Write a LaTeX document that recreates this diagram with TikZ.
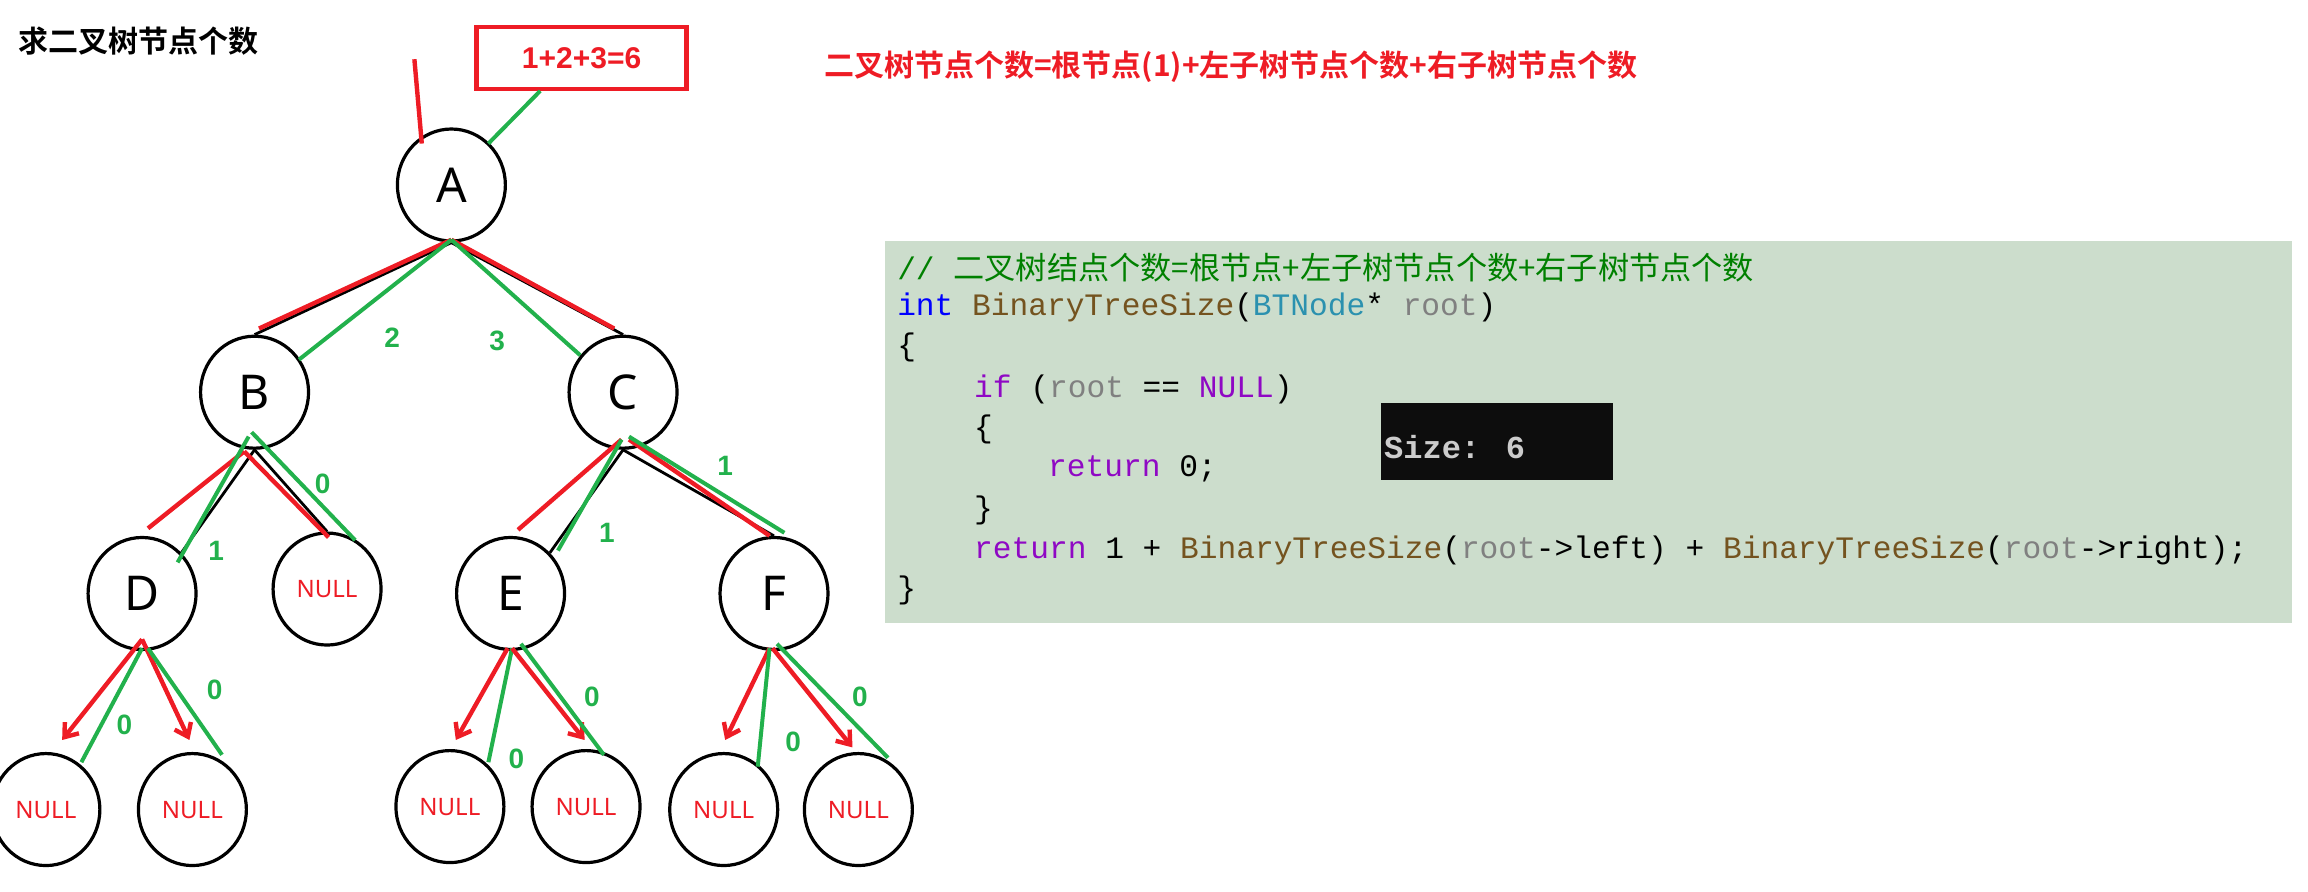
\documentclass[tikz,border=0pt]{standalone}
\usepackage{fontspec}
\setmainfont{Noto Sans}
\newfontfamily\cjk{Noto Sans CJK SC}
\newfontfamily\cjkb{Noto Sans CJK SC Bold}
\newfontfamily\bsans{Liberation Sans}
\newfontfamily\mono{Liberation Mono}
\usetikzlibrary{arrows.meta,shapes.geometric}
\definecolor{rd}{HTML}{EE1C25}
\definecolor{gr}{HTML}{22B14C}
\definecolor{codebg}{HTML}{CCDDCC}
\definecolor{cmt}{HTML}{008000}
\definecolor{kw}{HTML}{0000FF}
\definecolor{fn}{HTML}{74531F}
\definecolor{ty}{HTML}{2B91AF}
\definecolor{par}{HTML}{808080}
\definecolor{ctl}{HTML}{8F08C4}
\begin{document}
\begin{tikzpicture}[x=0.74pt,y=-0.74pt,
  tn/.style={draw,line width=1.6pt,ellipse,minimum width=54pt,minimum height=56pt,inner sep=0pt,font=\fontsize{24}{24}\selectfont},
  nn/.style={tn,font=\fontsize{12}{12}\selectfont\color{rd}},
  ed/.style={line width=1.4pt},
  re/.style={rd,line width=2.2pt},
  ra/.style={re,-{Straight Barb[length=6pt,width=9pt]}},
  ge/.style={gr,line width=2pt},
  gl/.style={gr,font=\bsans\bfseries\fontsize{14}{14}\selectfont},
  cl/.style={anchor=west,inner sep=0pt,font=\mono\fontsize{15.6}{16}\selectfont}]
\useasboundingbox (0,0) rectangle (1559.5,602.7);
% title and heading
\node[anchor=west,font=\cjkb\fontsize{15}{15}\selectfont] (title) at (8,28) {求二叉树节点个数};
\node[anchor=west,text=rd,font=\cjkb\fontsize{15}{15}\selectfont] (head) at (552,45) {二叉树节点个数=根节点(1)+左子树节点个数+右子树节点个数};
\node[draw=rd,line width=2.2pt,minimum width=105pt,minimum height=31pt,text=rd,font=\bsans\bfseries\fontsize{15}{15}\selectfont] (sum) at (393,39) {1+2+3=6};
% tree
\node[tn] (A) at (305,125) {A};
\node[tn] (B) at (172,265) {B};
\node[tn] (C) at (421,265) {C};
\node[tn] (D) at (96,401) {D};
\node[nn] (NB) at (221,398) {NULL};
\node[tn] (E) at (345,401) {E};
\node[tn] (F) at (523,401) {F};
\node[nn] (N1) at (31,547) {NULL};
\node[nn] (N2) at (130,547) {NULL};
\node[nn] (N3) at (304,545) {NULL};
\node[nn] (N4) at (396,545) {NULL};
\node[nn] (N5) at (489,547) {NULL};
\node[nn] (N6) at (580,547) {NULL};
\draw[ed] (A.south) -- (B.north); \draw[ed] (A.south) -- (C.north);
\draw[ed] (B.south) -- (D.north east); \draw[ed] (B.south) -- (NB.north);
\draw[ed] (C.south) -- (E.north east); \draw[ed] (C.south) -- (F.north);
% annotations
\coordinate (top) at (280,40);
\draw[re] (top) -- (285,97);
\draw[ge] (sum.south) ++(-28,0) -- (330,97);
\draw[re] (305,162) -- (175,222);
\draw[ge] (305,162) -- (202,243);
\draw[re] (305,162) -- (415,222);
\draw[ge] (305,162) -- (392,240);
\node[gl] at (265,228) {2};
\node[gl] at (336,230) {3};
\draw[re] (165,305) -- (100,357);
\draw[ge] (168,295) -- (120,380);
\node[gl] at (146,372) {1};
\draw[re] (165,305) -- (222,363);
\draw[ge] (170,292) -- (240,365);
\node[gl] at (218,327) {0};
\draw[re] (420,297) -- (350,358);
\draw[ge] (420,297) -- (377,372);
\node[gl] at (410,360) {1};
\draw[re] (425,297) -- (520,362);
\draw[ge] (425,295) -- (530,360);
\node[gl] at (490,315) {1};
\draw[ra] (96,432) -- (42,500);
\draw[ge] (96,438) -- (55,515);
\node[gl] at (84,490) {0};
\draw[ra] (96,432) -- (128,500);
\draw[ge] (100,438) -- (150,510);
\node[gl] at (145,466) {0};
\draw[ra] (343,438) -- (308,500);
\draw[ge] (346,438) -- (330,515);
\node[gl] at (349,513) {0};
\draw[ra] (346,438) -- (395,500);
\draw[ge] (352,435) -- (408,510);
\node[gl] at (400,471) {0};
\draw[ra] (520,438) -- (490,500);
\draw[ge] (520,438) -- (512,518);
\node[gl] at (536,501) {0};
\draw[ra] (522,438) -- (576,505);
\draw[ge] (525,435) -- (600,512);
\node[gl] at (581,471) {0};
% code
\fill[codebg] (598,163) rectangle (1549,421);
\node[cl] (c1) at (606,181) {\color{cmt}// {\cjk 二叉树结点个数=根节点+左子树节点个数+右子树节点个数}};
\node[cl] (c2) at (606,208) {\color{kw}int \color{fn}BinaryTreeSize\color{black}(\color{ty}BTNode\color{black}* \color{par}root\color{black})};
\node[cl] (c3) at (606,235) {\{};
\node[cl] (c4) at (658,263) {\color{ctl}if \color{black}(\color{par}root \color{black}== \color{ctl}NULL\color{black})};
\node[cl] (c5) at (658,290) {\{};
\node[cl] (c6) at (708,317) {\color{ctl}return \color{black}0;};
\node[cl] (c7) at (658,345) {\}};
\node[cl] (c8) at (658,372) {\color{ctl}return \color{black}1 + \color{fn}BinaryTreeSize\color{black}(\color{par}root\color{black}->left) + \color{fn}BinaryTreeSize\color{black}(\color{par}root\color{black}->right);};
\node[cl] (c9) at (606,399) {\}};
\fill[black!95] (933,272) rectangle (1090,324);
\node[anchor=west,text=black!20,font=\mono\bfseries\fontsize{16}{16}\selectfont,inner sep=0pt] (out) at (935,302) {Size: 6};
\end{tikzpicture}
\end{document}
